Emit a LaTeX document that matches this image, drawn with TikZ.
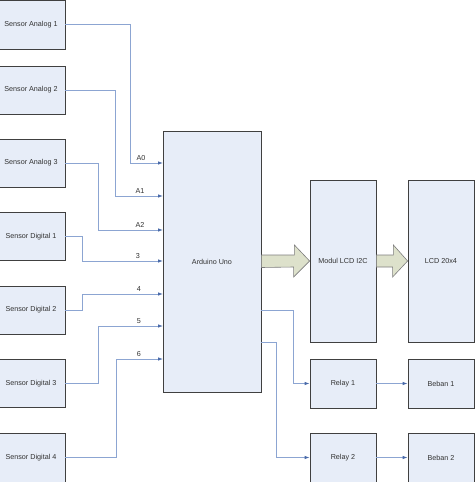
\documentclass[tikz,border=0pt]{standalone}
\usepackage{fontspec}
\setmainfont{Liberation Sans}
\usetikzlibrary{arrows.meta,calc}
\definecolor{boxfill}{RGB}{231,237,248}
\definecolor{boxline}{RGB}{64,64,64}
\definecolor{wirecol}{RGB}{140,165,210}
\definecolor{tipcol}{RGB}{72,105,168}
\definecolor{bigfill}{RGB}{221,225,203}
\definecolor{bigline}{RGB}{125,125,125}
\definecolor{txtcol}{RGB}{50,50,50}
\tikzset{
	blok/.style={draw=boxline, fill=boxfill, line width=0.8pt, inner sep=0pt,
		minimum width=66, minimum height=48, text=txtcol,
		font=\fontsize{7.2}{8.6}\selectfont},
	wire/.style={draw=wirecol, line width=0.8pt},
	wiretip/.style={wire, -{Latex[length=5pt,width=3.5pt,color=tipcol]}},
	pinlbl/.style={anchor=base, inner sep=0pt, text=txtcol,
		font=\fontsize{7.2}{8.6}\selectfont},
	bigarrow/.style={draw=bigline, fill=bigfill, line width=0.6pt, line join=miter}
}

\begin{document}
\begin{tikzpicture}[x=1pt, y=-1pt]
				\useasboundingbox (0,0) rectangle (474,482);
				
				% sensor blocks
				\node[blok, minimum width=68, minimum height=49] (sa1) at (31,24.5) {Sensor Analog 1};
				\node[blok, minimum width=68] (sa2) at (31,90) {Sensor Analog 2};
				\node[blok, minimum width=68] (sa3) at (31,163) {Sensor Analog 3};
				\node[blok, minimum width=68] (sd1) at (31,236.5) {Sensor Digital 1};
				\node[blok, minimum width=68] (sd2) at (31,310) {Sensor Digital 2};
				\node[blok, minimum width=68] (sd3) at (31,383.5) {Sensor Digital 3};
				\node[blok, minimum width=68, minimum height=49] (sd4) at (31,457.5) {Sensor Digital 4};
				
				% controller and outputs
				\node[blok, minimum width=98, minimum height=261] (ard) at (212,261.5) {Arduino Uno};
				\node[blok, minimum height=162] (mod) at (343,261) {Modul LCD I2C};
				\node[blok, minimum height=162] (lcd) at (441,261) {LCD 20x4};
				\node[blok, minimum height=49] (rel1) at (343,383.5) {Relay 1};
				\node[blok, minimum height=49] (beb1) at (441,383.5) {Beban 1};
				\node[blok, minimum height=49] (rel2) at (343,457.5) {Relay 2};
				\node[blok, minimum height=49] (beb2) at (441,457.5) {Beban 2};
				
				% input pins
				\coordinate (pA0) at (163,163);
				\coordinate (pA1) at (163,196);
				\coordinate (pA2) at (163,230);
				\coordinate (p3) at (163,261);
				\coordinate (p4) at (163,294);
				\coordinate (p5) at (163,326);
				\coordinate (p6) at (163,359);
				
				\draw[wire] (sa1.east) -| ([xshift=-33]pA0);
				\draw[wiretip] ([xshift=-33]pA0) -- (pA0);
				\draw[wire] (sa2.east) -| ([xshift=-48]pA1);
				\draw[wiretip] ([xshift=-48]pA1) -- (pA1);
				\draw[wire] (sa3.east) -| ([xshift=-65]pA2);
				\draw[wiretip] ([xshift=-65]pA2) -- (pA2);
				\draw[wire] (sd1.east) -| ([xshift=-81]p3);
				\draw[wiretip] ([xshift=-81]p3) -- (p3);
				\draw[wire] (sd2.east) -| ([xshift=-81]p4);
				\draw[wiretip] ([xshift=-81]p4) -- (p4);
				\draw[wire] (sd3.east) -| ([xshift=-65]p5);
				\draw[wiretip] ([xshift=-65]p5) -- (p5);
				\draw[wire] (sd4.east) -| ([xshift=-47]p6);
				\draw[wiretip] ([xshift=-47]p6) -- (p6);
				
				\node[pinlbl] at ([xshift=-22,yshift=3]pA0) {A0};
				\node[pinlbl] at ([xshift=-23,yshift=3]pA1) {A1};
				\node[pinlbl] at ([xshift=-23,yshift=3]pA2) {A2};
				\node[pinlbl] at ([xshift=-25,yshift=3]p3) {3};
				\node[pinlbl] at ([xshift=-24,yshift=3]p4) {4};
				\node[pinlbl] at ([xshift=-24,yshift=3]p5) {5};
				\node[pinlbl] at ([xshift=-24,yshift=3]p6) {6};
				
				% block arrows
				\draw[bigarrow] ([yshift=6.5]ard.east) -- ++(33,0) -- ++(0,-10) -- (mod.west)
					-- ++(-16,16) -- ++(0,-10) -- ([yshift=-6]ard.east) -- cycle;
				\draw[bigarrow] ([yshift=6]mod.east) -- ++(17,0) -- ++(0,-10) -- (lcd.west)
					-- ++(-15,16) -- ++(0,-10) -- ([yshift=-6]mod.east) -- cycle;
				
				% relay outputs
				\draw[wire] ([yshift=-48.5]ard.east) -| ([xshift=-16]rel1.west);
				\draw[wiretip] ([xshift=-16]rel1.west) -- (rel1.west);
				\draw[wire] ([yshift=-81]ard.east) -| ([xshift=-33]rel2.west);
				\draw[wiretip] ([xshift=-33]rel2.west) -- (rel2.west);
				\draw[wiretip] (rel1) -- (beb1);
				\draw[wiretip] (rel2) -- (beb2);
			\end{tikzpicture}
\end{document}
